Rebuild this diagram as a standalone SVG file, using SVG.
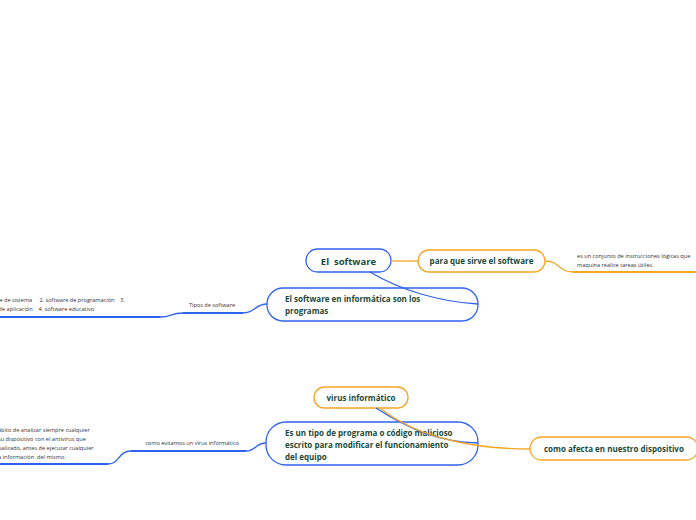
<svg xmlns="http://www.w3.org/2000/svg" width="696" height="520" viewBox="0 0 696 520">
<style>
text{font-family:"Open Sans","Noto Sans","Liberation Sans",sans-serif;fill:#333;white-space:pre}
.b{font-weight:bold;fill:#1b4a3a;font-size:8px}
.s{font-size:5.6px}
.nb{fill:#fff;stroke:#2e62f0;stroke-width:1.3}
.no{fill:#fff;stroke:#f5a623;stroke-width:1.3}
.cb{fill:none;stroke:#2e62f0;stroke-width:1.3}
.co{fill:none;stroke:#f5a623;stroke-width:1.3}
.lb{fill:none;stroke:#2e62f0;stroke-width:1.8}
.lo{fill:none;stroke:#f5a623;stroke-width:1.8}
</style>
<rect width="696" height="520" fill="#fff"/>
<g id="n-software"><rect class="nb" x="306" y="249" width="85" height="23" rx="11.5"/><text x="348.5" y="264.5" class="b" text-anchor="middle" style="font-size:9.5px" xml:space="preserve">El  software</text></g>
<g id="n-para"><rect class="no" x="418" y="250" width="127" height="22" rx="11"/><text x="481.5" y="264" class="b" text-anchor="middle">para que sirve el software</text></g>
<g id="n-para-desc"><text class="s" x="577" y="258">es un conjunto de instrucciones lógicas que</text><text class="s" x="577" y="267">maquina realice tareas útiles.</text></g>
<g id="n-programas"><rect class="nb" x="267" y="288" width="211" height="33" rx="16"/><text class="b" x="285" y="302">El software en informática son los</text><text class="b" x="285" y="314">programas</text></g>
<g id="n-tipos"><text class="s" x="212" y="307" text-anchor="middle">Tipos de software</text></g>
<g id="n-tipos-desc"><text class="s" x="-6" y="302" xml:space="preserve">are de sistema     2. software de programación    3.</text><text class="s" x="-6" y="311" xml:space="preserve">e de aplicación    4. software educativo</text></g>
<g id="n-virus"><rect class="no" x="314" y="387" width="94" height="21" rx="10.5"/><text class="b" x="361" y="400.5" text-anchor="middle">virus informático</text></g>
<g id="n-tipo"><rect class="nb" x="266" y="422" width="212" height="43" rx="20"/><text class="b" x="285" y="436">Es un tipo de programa o código malicioso</text><text class="b" x="285" y="448">escrito para modificar el funcionamiento</text><text class="b" x="285" y="460">del equipo</text></g>
<g id="n-afecta"><rect class="no" x="530" y="437" width="168" height="23" rx="11.5"/><text class="b" x="544" y="451.5">como afecta en nuestro dispositivo</text></g>
<g id="n-evitamos"><text class="s" x="192" y="445" text-anchor="middle">como evitamos un virus informático</text></g>
<g id="n-evitamos-desc"><text class="s" x="-2" y="432">ábito de analizar siempre cualquier</text><text class="s" x="-2" y="441">su dispositivo con el antivirus que</text><text class="s" x="-2" y="450">ualizado, antes de ejecutar cualquier</text><text class="s" x="-2" y="459" xml:space="preserve">a información  del mismo.</text></g>
<g id="connectors">
<path class="co" d="M391 261 H418"/>
<path class="co" d="M545 261 C560 261 558 272 573 272"/>
<path class="lo" d="M573 272 H696"/>
<path class="cb" d="M370 272 C400 290 440 302 478 304"/>
<path class="cb" d="M267 304 C255 304 255 313 243 313"/>
<path class="lb" d="M183 313 H243"/>
<path class="cb" d="M183 313 C170 313 172 317 160 317"/>
<path class="lb" d="M0 317 H160"/>
<path class="cb" d="M376 408 C410 430 440 442 478 443"/>
<path class="co" d="M380 408 C420 440 480 449 530 449"/>
<path class="cb" d="M266 443 C255 443 256 451 246 451"/>
<path class="lb" d="M131 451 H246"/>
<path class="cb" d="M131 451 C118 451 120 464 108 464"/>
<path class="lb" d="M0 464 H108"/>
</g>
</svg>
